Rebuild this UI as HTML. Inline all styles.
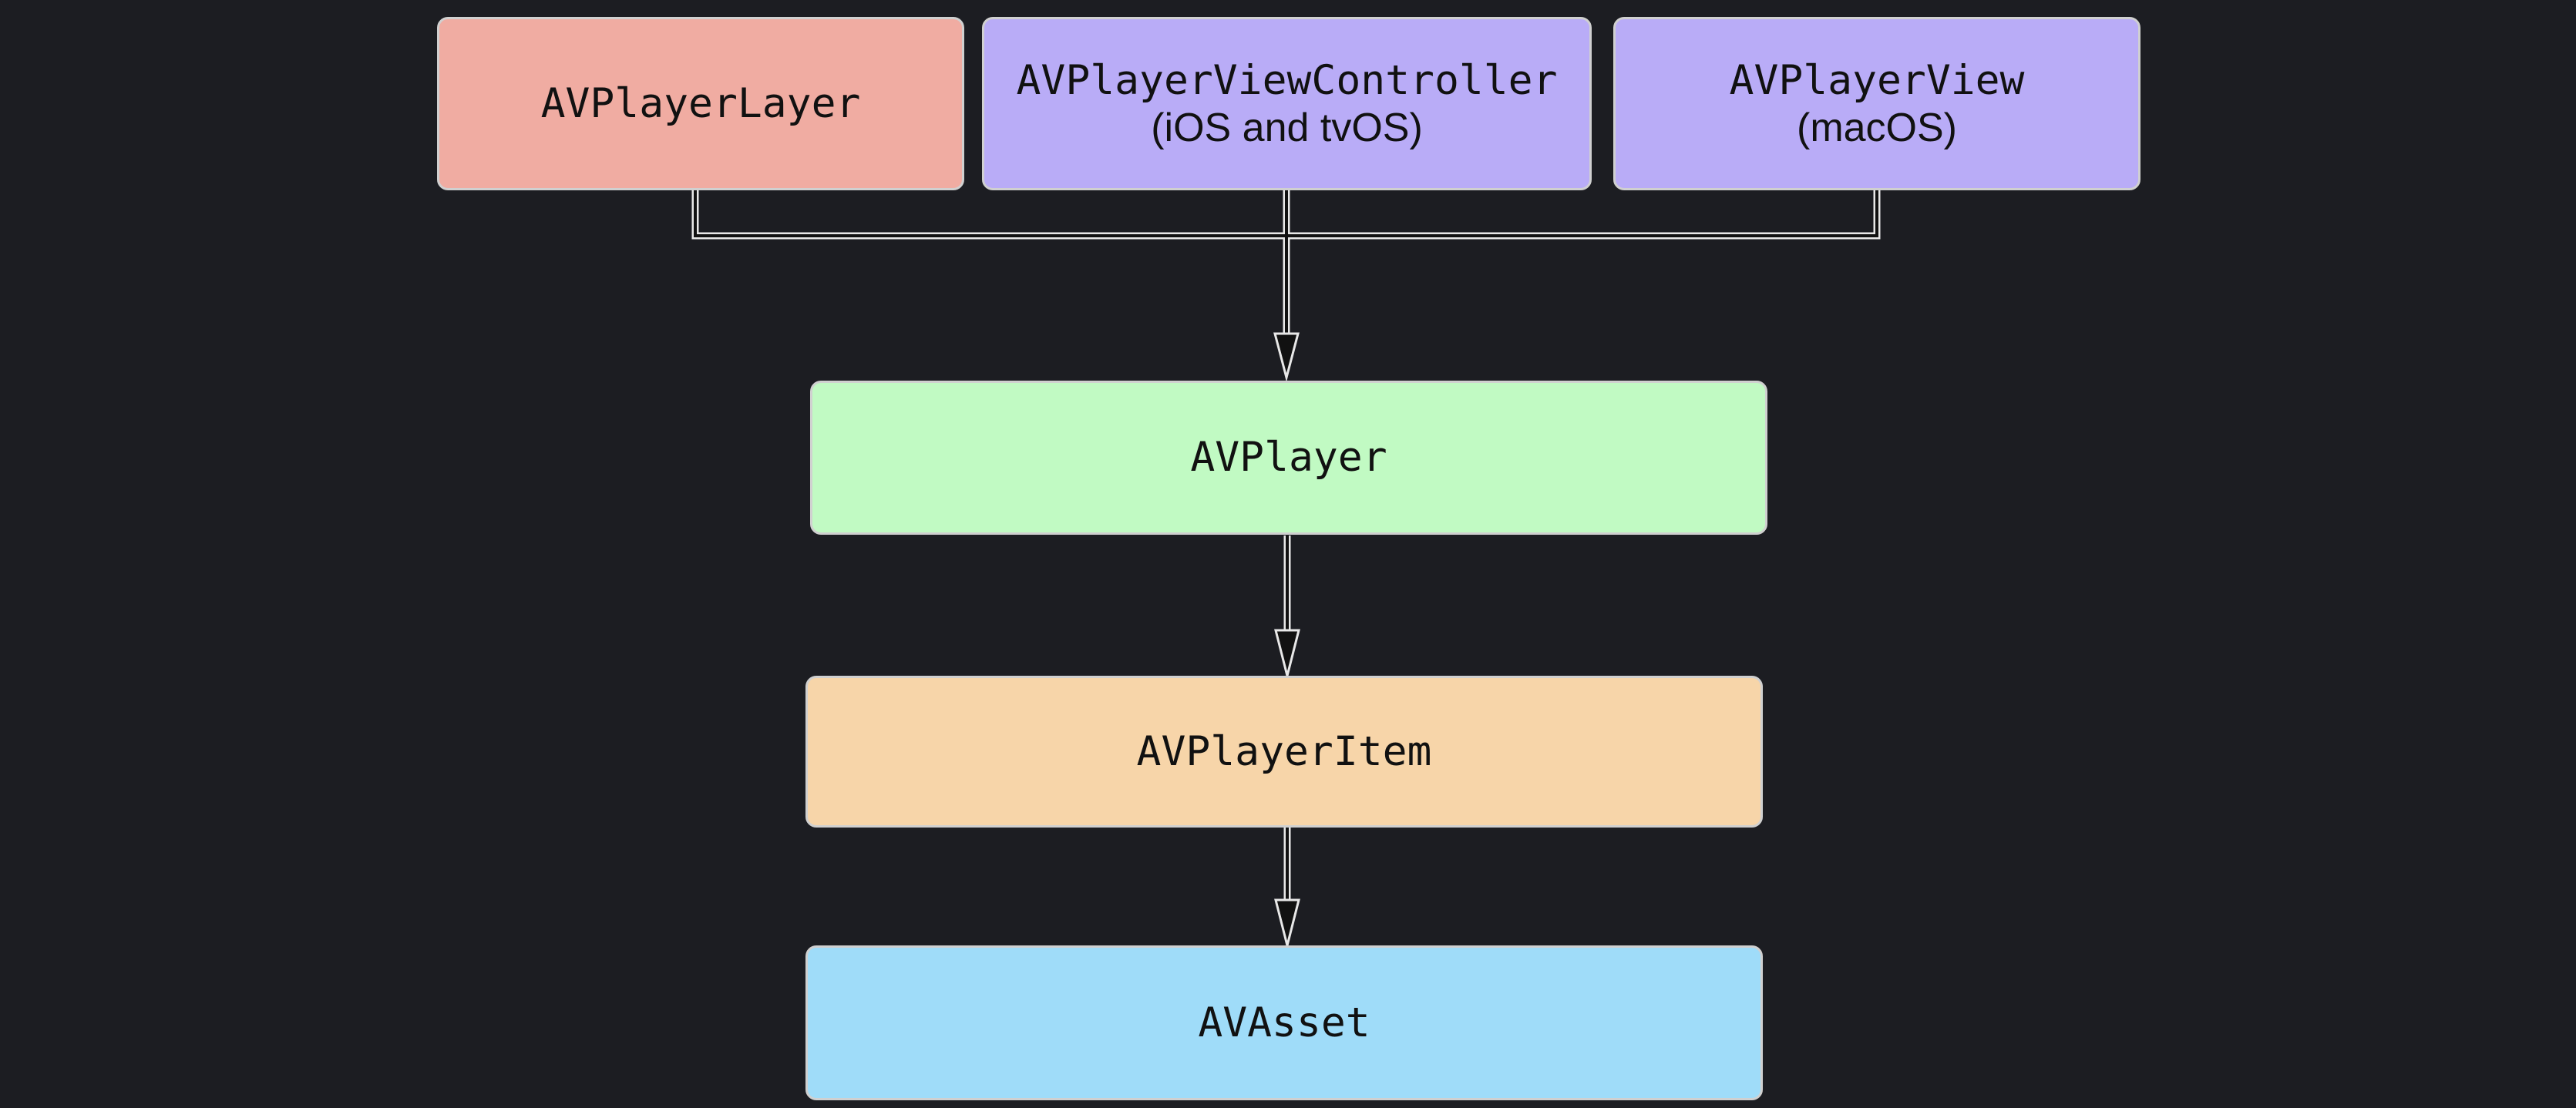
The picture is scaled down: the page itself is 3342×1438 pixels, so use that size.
<!DOCTYPE html>
<html><head><style>
html,body{margin:0;padding:0;background:#1c1d22;}
body{width:3342px;height:1438px;position:relative;overflow:hidden;}
.b{position:absolute;box-sizing:border-box;border:3px solid #d0d0d0;border-radius:14px;display:flex;flex-direction:column;align-items:center;justify-content:center;color:#111;}
.m{font-family:"DejaVu Sans Mono","Liberation Mono",monospace;font-size:53px;line-height:62px;}
.s{font-family:"Liberation Sans",sans-serif;font-size:52px;line-height:60px;}
svg{position:absolute;left:0;top:0;}
</style></head><body>
<svg width="3342" height="1438">
<g fill="none" stroke-linejoin="miter">
<path d="M902 245 V306 H2435 V245 M1669 245 V440 M1670 695 V820 M1670 1074 V1170" stroke="#e8e8e8" stroke-width="9"/>
<path d="M902 245 V306 H2435 V245 M1669 245 V440 M1670 695 V820 M1670 1074 V1170" stroke="#111" stroke-width="4"/>
</g>
<g fill="#111" stroke="#e8e8e8" stroke-width="3">
<path d="M1654 433 L1684 433 L1669 490 Z"/>
<path d="M1655 818 L1685 818 L1670 877 Z"/>
<path d="M1655 1168 L1685 1168 L1670 1227 Z"/>
</g>
</svg>
<div class="b" style="left:567px;top:22px;width:684px;height:225px;background:#f0aca2"><div class="m">AVPlayerLayer</div></div>
<div class="b" style="left:1274px;top:22px;width:791px;height:225px;background:#b9acf7"><div class="m">AVPlayerViewController</div><div class="s">(iOS and tvOS)</div></div>
<div class="b" style="left:2093px;top:22px;width:684px;height:225px;background:#b9acf7"><div class="m">AVPlayerView</div><div class="s">(macOS)</div></div>
<div class="b" style="left:1051px;top:494px;width:1242px;height:200px;background:#c1fac3"><div class="m">AVPlayer</div></div>
<div class="b" style="left:1045px;top:877px;width:1242px;height:197px;background:#f7d5a9"><div class="m">AVPlayerItem</div></div>
<div class="b" style="left:1045px;top:1227px;width:1242px;height:201px;background:#9fdcf9"><div class="m">AVAsset</div></div>
</body></html>
